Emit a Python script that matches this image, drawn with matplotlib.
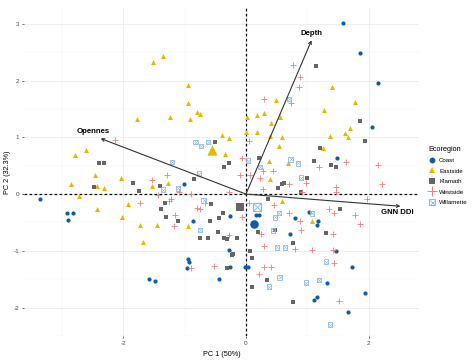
import matplotlib
matplotlib.use("Agg")
import matplotlib.pyplot as plt
from matplotlib.lines import Line2D

plt.rcParams['font.family'] = ['Liberation Sans', 'DejaVu Sans']
plt.rcParams['axes.unicode_minus'] = False

# PCA scores per ecoregion
coast_x = [1.58, 1.86, 2.15, 2.06, 1.48, -3.36, -2.92, -2.82, -2.90, -1.01, -0.86, -1.58, -1.48,
           -0.95, -0.93, -0.96, -0.44, -0.28, -0.26, -0.26, 0.16, 0.21, 0.80, 1.03, 1.17, 1.16,
           0.72, 1.47, 1.73, -0.01, 0.04, 1.32, 1.16, 1.11, 1.94, 1.66]
coast_y = [3.02, 2.49, 1.96, 1.19, 0.64, -0.08, -0.34, -0.34, -0.45, 0.18, -0.47, -1.49, -1.54,
           -1.14, -1.19, -1.31, -1.49, -0.99, -1.28, -0.38, -0.36, -0.36, -0.43, -0.31, -0.48, -0.55,
           -0.71, -1.01, -1.29, -1.28, -1.28, -1.56, -1.82, -1.86, -1.75, -2.07]

east_x = [-1.52, -1.35, -0.95, -0.95, -1.78, -1.24, -0.91, -0.80, -0.75, -0.39, -0.28, -0.34,
          -2.61, -2.79, -2.46, -2.04, -2.85, -2.43, -2.32, -2.72, -1.92, -2.43, -2.02, -1.73,
          -1.68, -1.45, -0.95, -1.53, -1.27, 1.40, 1.78, 1.27, 0.49, 0.02, 0.18, 0.29, 0.55,
          0.41, 1.70, 1.62, 1.66, 1.37, 0.00, 0.18, 0.39, 0.59, 0.54, 1.25, 0.38, 0.69, 0.39,
          0.59, 1.08]
east_y = [2.32, 2.44, 1.93, 1.61, 1.33, 1.36, 1.33, 1.45, 1.42, 1.05, 0.99, 0.71,
          0.78, 0.68, 0.34, 0.29, 0.17, 0.15, 0.11, -0.03, -0.17, -0.26, -0.40, -0.54,
          -0.84, -0.54, -0.57, 0.15, 0.20, 1.88, 1.63, 1.49, 1.66, 1.36, 1.40, 1.43, 1.36,
          1.26, 1.17, 1.08, 1.01, 1.03, 1.10, 1.10, 1.03, 1.01, 0.84, 0.82, 0.59, 0.54, 0.27,
          -0.13, -0.48]

klam_x = [-2.40, -2.32, -0.51, -0.36, -0.28, -0.85, 1.14, 1.86, 1.94, 1.21, 1.11, 1.39, 1.47,
          0.21, 1.00, -2.48, -1.84, -1.75, -1.40, -1.32, -1.39, -1.31, -1.11, -0.57, -0.38,
          -0.44, -0.59, -0.46, -0.36, -0.75, -0.62, -0.31, -0.15, -0.23, -0.31, 0.59, 0.62,
          0.52, 0.90, 0.36, 1.53, 0.47, 0.20, 1.31, 0.77, 0.07, 0.10, -0.21, 0.34, 0.10, 0.77]
klam_y = [0.54, 0.54, 0.92, 0.48, 0.55, 0.27, 2.26, 1.29, 0.94, 0.82, 0.59, 0.52, 0.48,
          0.64, 0.29, 0.13, 0.20, 0.06, 0.15, -0.15, -0.26, -0.40, -0.47, -0.17, -0.33,
          -0.43, -0.47, -0.66, -0.77, -0.77, -0.78, -0.80, -0.77, -1.07, -1.31, 0.18, 0.20,
          0.11, 0.03, -0.08, -0.26, -0.64, -0.66, -0.68, -0.87, -1.01, -1.12, -1.05, -1.51, -1.63, -1.91]

west_x = [-2.14, -1.29, -0.10, 0.77, 0.88, 0.86, 0.29, 0.73, 0.05, -0.07, 1.63, 2.15, 1.19,
          0.28, 0.44, 0.07, 0.23, -1.53, -1.44, -1.26, -1.22, -1.09, -0.90, -1.73, -1.16,
          -1.17, -0.80, -0.75, -0.67, -0.28, -0.28, -0.52, -0.90, 0.70, 0.98, 0.91, 1.47,
          1.47, 2.22, 1.97, 0.05, 0.46, -0.07, 0.70, 0.88, 0.90, 1.35, 1.44, 1.78, 1.86,
          1.42, 0.29, 0.80, 1.08, 1.42, 1.44, 0.29, 0.41, 0.21, 1.52, 0.24, 0.28]
west_y = [0.96, 0.34, 0.33, 2.28, 2.07, 1.89, 1.68, 1.61, 0.94, 0.64, 0.57, 0.52, 0.47,
          0.40, 0.40, 0.33, 0.29, 0.24, -0.01, -0.13, -0.08, 0.04, 0.01, -0.15, -0.36,
          -0.57, -0.24, -0.27, -0.15, 0.03, -0.73, -1.26, -1.31, 0.17, 0.20, 0.04, 0.13,
          0.03, 0.18, -0.08, -0.15, -0.20, -0.41, -0.34, -0.48, -0.64, -0.27, -0.33, -0.36, -0.52,
          -0.70, -0.92, -0.96, -0.98, -0.99, -1.21, -1.29, -1.29, -1.40, -1.89, -0.70, 0.09]

will_x = [-0.82, -0.73, -0.62, -1.21, -0.77, 0.70, 0.73, 0.85, 0.03, 0.23, 0.90, -1.35, -1.11,
          -0.69, -0.75, 0.54, 0.47, 1.08, 0.44, 0.51, 0.64, 1.31, 0.55, 0.38, 0.98, 1.19, 1.37]
will_y = [0.92, 0.85, 0.92, 0.57, 0.36, 1.68, 0.61, 0.54, 0.59, 0.48, 0.29, 0.08, 0.10,
          -0.11, -0.63, -0.33, -0.41, -0.34, -0.64, -0.94, -0.94, -1.19, -1.47, -1.63, -1.56, -1.51, -2.30]

# group means
mean_coast = (0.13, -0.52)
mean_east = (-0.55, 0.77)
mean_klam = (-0.10, -0.22)
mean_will = (0.18, -0.22)

# variable loadings (arrow tips) and label spots
var_names = ['Depth', 'Opennes', 'GNN DDI']
var_x = [1.07, -2.37, 2.52]
var_y = [2.71, 0.98, -0.215]
lab_x = [1.07, -2.49, 2.47]
lab_y = [2.83, 1.11, -0.32]

c_coast = '#0C5DA5'
c_east = '#E7B800'
c_klam = '#666666'
c_west = '#EE7D7D'
c_will = '#8DB9E2'

fig = plt.figure(figsize=(4.74, 3.61), dpi=100)
ax = fig.add_axes([0.0506, 0.0679, 0.833, 0.910])

ax.set_xlim(-3.62, 2.82)
ax.set_ylim(-2.51, 3.28)
ax.set_xticks([-2, 0, 2])
ax.set_xticks([-3, -1, 1], minor=True)
ax.set_yticks([-2, -1, 0, 1, 2, 3])
ax.set_yticks([-2.5, -1.5, -0.5, 0.5, 1.5, 2.5], minor=True)
ax.grid(which='major', color='#EBEBEB', lw=0.6)
ax.grid(which='minor', color='#F3F3F3', lw=0.35)
ax.set_axisbelow(True)
for s in ax.spines.values():
    s.set_visible(False)
ax.tick_params(which='major', labelsize=4.6, labelcolor='#4D4D4D', length=1.5, width=0.5,
               color='#333333', pad=2)
ax.tick_params(which='minor', length=0)

ax.axhline(0, color='black', lw=0.9, ls=(0, (2.2, 1.8)), zorder=1)
ax.axvline(0, color='black', lw=0.9, ls=(0, (2.2, 1.8)), zorder=1)

ax.scatter(coast_x, coast_y, s=9, marker='o', color=c_coast, lw=0, zorder=3)
ax.scatter(east_x, east_y, s=13, marker='^', color=c_east, lw=0, zorder=3)
ax.scatter(klam_x, klam_y, s=9, marker='s', color=c_klam, lw=0, zorder=3)
ax.scatter(west_x, west_y, s=20, marker='+', color=c_west, lw=0.6, zorder=3)
ax.scatter(will_x, will_y, s=10, marker='s', facecolor='none', edgecolor=c_will, lw=0.6, zorder=3)
ax.scatter(will_x, will_y, s=8, marker='x', color=c_will, lw=0.4, zorder=3)

ax.scatter(*mean_coast, s=38, marker='o', color=c_coast, lw=0, zorder=4)
ax.scatter(*mean_east, s=55, marker='^', color=c_east, lw=0, zorder=4)
ax.scatter(*mean_klam, s=32, marker='s', color=c_klam, lw=0, zorder=4)
ax.scatter(*mean_will, s=34, marker='s', facecolor='none', edgecolor=c_will, lw=0.9, zorder=4)
ax.scatter(*mean_will, s=24, marker='x', color=c_will, lw=0.6, zorder=4)

for name, vx, vy, lx, ly in zip(var_names, var_x, var_y, lab_x, lab_y):
    ax.annotate('', xy=(vx, vy), xytext=(0, 0),
                arrowprops=dict(arrowstyle='->', color='#333333', lw=0.8,
                                mutation_scale=5, shrinkA=0, shrinkB=0), zorder=5)
    ax.text(lx, ly, name, fontsize=5.6, fontweight='bold', ha='center', va='center', zorder=6)

ax.set_xlabel('PC 1 (50%)', fontsize=5.2, labelpad=3)
ax.set_ylabel('PC 2 (32.3%)', fontsize=5.2, labelpad=2)

handles = [
    Line2D([], [], ls='none', marker='o', color=c_coast, markersize=4.2, markeredgewidth=0),
    Line2D([], [], ls='none', marker='^', color=c_east, markersize=5, markeredgewidth=0),
    Line2D([], [], ls='none', marker='s', color=c_klam, markersize=3.8, markeredgewidth=0),
    Line2D([], [], ls='none', marker='+', color=c_west, markersize=7, markeredgewidth=0.7),
    (Line2D([], [], ls='none', marker='s', markerfacecolor='none', markeredgecolor=c_will,
            markersize=4.2, markeredgewidth=0.8),
     Line2D([], [], ls='none', marker='x', color=c_will, markersize=3.6, markeredgewidth=0.6)),
]
leg = fig.legend(handles, ['Coast', 'Eastside', 'Klamath', 'Westside', 'Willamette'],
                 title='Ecoregion', loc='upper left', bbox_to_anchor=(0.898, 0.605),
                 frameon=False, fontsize=4.4, title_fontsize=5.2, handlelength=1.2,
                 handletextpad=0.5, labelspacing=0.85, borderpad=0)
leg._legend_box.align = 'left'

fig.savefig('out.png', dpi=100)
